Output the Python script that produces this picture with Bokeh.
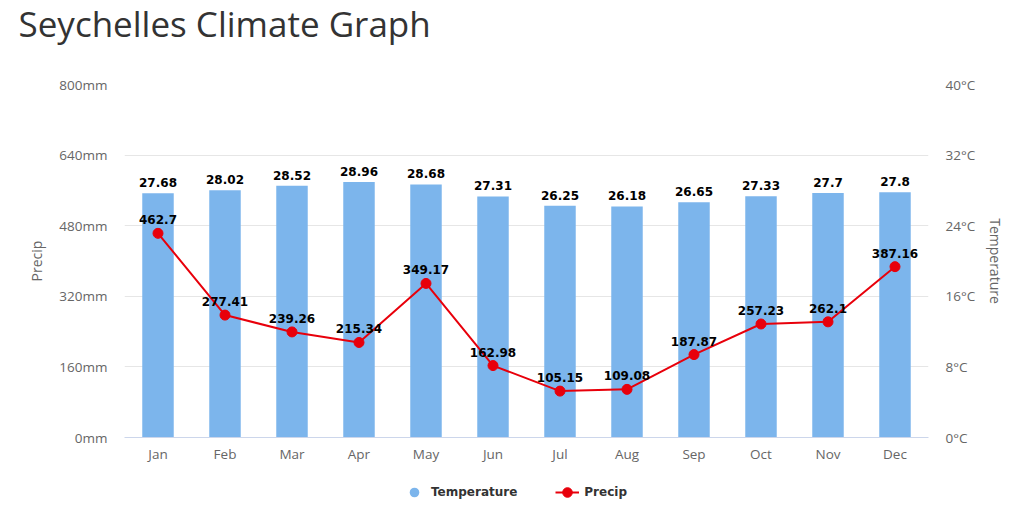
from bokeh.plotting import figure
from bokeh.layouts import column
from bokeh.models import (ColumnDataSource, FactorRange, Range1d, LinearAxis, FixedTicker,
                          CustomJSTickFormatter, Legend, LegendItem, Label)
from bokeh.core.properties import value
from bokeh.embed import file_html
from bokeh.resources import INLINE

months = ["Jan", "Feb", "Mar", "Apr", "May", "Jun", "Jul", "Aug", "Sep", "Oct", "Nov", "Dec"]
temperature = [27.68, 28.02, 28.52, 28.96, 28.68, 27.31, 26.25, 26.18, 26.65, 27.33, 27.7, 27.8]
precip = [462.7, 277.41, 239.26, 215.34, 349.17, 162.98, 105.15, 109.08, 187.87, 257.23, 262.1, 387.16]
precip_ticks = [0, 160, 320, 480, 640, 800]
temp_ticks = [0, 8, 16, 24, 32, 40]

src = ColumnDataSource(dict(
    month=months,
    temp=temperature,
    precip=precip,
    temp_lbl=[f"{v:g}" for v in temperature],
    precip_lbl=[f"{v:g}" for v in precip],
))

BLUE = "#7cb5ec"
RED = "#e8000b"
FONT = "Open Sans"
LBL_FONT = "DejaVu Sans"
W = 1024


def strip(height):
    """A bare figure used as a canvas for a heading or a key."""
    f = figure(width=W, height=height, output_backend="svg", toolbar_location=None,
               x_range=Range1d(0, W), y_range=Range1d(0, height),
               x_axis_type=None, y_axis_type=None, min_border=0, frame_align=False,
               outline_line_color=None, background_fill_color="white",
               border_fill_color="white")
    f.grid.visible = False
    return f


# heading
head = strip(56)
head.add_layout(Label(x=18, y=33, text="Seychelles Climate Graph", text_font=FONT,
                      text_font_size="35px", text_color="#333333",
                      text_baseline="alphabetic", text_align="left"))

# main chart
p = figure(width=W, height=414, output_backend="svg", toolbar_location=None,
           x_range=FactorRange(factors=months, range_padding=0),
           y_range=Range1d(0, 800), frame_align=False,
           min_border_left=124, min_border_right=96, min_border_top=28, min_border_bottom=33,
           outline_line_color=None, background_fill_color="white", border_fill_color="white")
p.extra_y_ranges = {"temp": Range1d(0, 40)}

p.xaxis.axis_line_color = "#ccd6eb"
p.xaxis.major_tick_line_color = None
p.xaxis.minor_tick_line_color = None
p.xaxis.major_tick_out = 0
p.xaxis.major_label_text_font = FONT
p.xaxis.major_label_text_font_size = "13.5px"
p.xaxis.major_label_text_color = "#666666"
p.xaxis.major_label_standoff = 7

yl = p.yaxis[0]
yl.ticker = FixedTicker(ticks=precip_ticks)
yl.formatter = CustomJSTickFormatter(code="return tick + 'mm';")
yl.axis_line_color = None
yl.major_tick_line_color = None
yl.minor_tick_line_color = None
yl.major_tick_out = 0
yl.major_label_standoff = 17
yl.major_label_text_font = FONT
yl.major_label_text_font_size = "13.5px"
yl.major_label_text_color = "#666666"
yl.axis_label = "Precip"
yl.axis_label_text_font = FONT
yl.axis_label_text_font_size = "14px"
yl.axis_label_text_font_style = "normal"
yl.axis_label_text_color = "#666666"
yl.axis_label_standoff = 10

yr = LinearAxis(y_range_name="temp", ticker=FixedTicker(ticks=temp_ticks),
                formatter=CustomJSTickFormatter(code="return tick + '\u00b0C';"),
                axis_line_color=None, major_tick_line_color=None, minor_tick_line_color=None,
                major_tick_out=0,
                major_label_standoff=17, major_label_text_font=FONT,
                major_label_text_font_size="13.5px", major_label_text_color="#666666",
                axis_label="Temperature", axis_label_text_font=FONT,
                axis_label_text_font_size="14px", axis_label_text_font_style="normal",
                axis_label_text_color="#666666", axis_label_standoff=8)
p.add_layout(yr, "right")

p.xgrid.grid_line_color = None
p.ygrid.grid_line_color = "#e6e6e6"
p.ygrid.ticker = FixedTicker(ticks=precip_ticks)

# temperature columns (right axis)
p.vbar(x="month", top="temp", width=0.47, source=src, y_range_name="temp",
       fill_color=BLUE, line_color=None)
p.text(x="month", y="temp", text="temp_lbl", source=src, y_range_name="temp",
       text_align="center", text_baseline="bottom", y_offset=-6,
       text_font=value(LBL_FONT), text_font_size="12px",
       text_font_style="bold", text_color="#000000")

# precipitation line (left axis)
p.line(x="month", y="precip", source=src, line_color=RED, line_width=2)
p.scatter(x="month", y="precip", source=src, marker="circle", size=10,
          fill_color=RED, line_color=RED)
p.text(x="month", y="precip", text="precip_lbl", source=src,
       text_align="center", text_baseline="bottom", y_offset=-9,
       text_font=value(LBL_FONT), text_font_size="12px",
       text_font_style="bold", text_color="#000000")

# key strip underneath the chart
leg = strip(42)
# key glyphs sit outside the visible range; only their legend swatches show
key_bar = leg.scatter(x=[-50], y=[-50], marker="circle", fill_color=BLUE, line_color=None)
key_line = leg.line(x=[-50, -40], y=[-50, -50], line_color=RED, line_width=2)
key_dot = leg.scatter(x=[-50], y=[-50], marker="circle", fill_color=RED, line_color=RED)
legend = Legend(items=[LegendItem(label="Temperature", renderers=[key_bar]),
                       LegendItem(label="Precip", renderers=[key_line, key_dot])],
                orientation="horizontal", location=(402, 5),
                label_text_font=LBL_FONT, label_text_font_size="12px",
                label_text_font_style="bold", label_text_color="#333333",
                glyph_width=24, glyph_height=30, spacing=38, label_standoff=5,
                padding=4, margin=0,
                border_line_color=None, background_fill_alpha=0)
leg.add_layout(legend, "center")

open("out.html", "w").write(file_html(column(head, p, leg, spacing=0), INLINE))
